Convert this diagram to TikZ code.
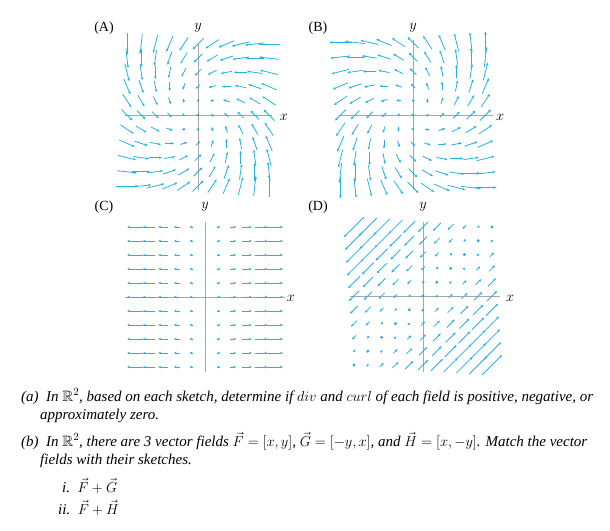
\documentclass[tikz,border=0pt]{standalone}
\usepackage{amssymb}
\usepackage{fontspec}
\setmainfont{Liberation Serif}
\usetikzlibrary{arrows.meta}
\definecolor{fc}{RGB}{38,178,228}
\tikzset{vec/.style={fc,line width=0.8pt,-{Stealth[length=3pt,width=2.6pt]}},
 axis/.style={gray!70,line width=0.8pt},
 lab/.style={font=\fontsize{14}{16}\selectfont},
 txt/.style={anchor=base west,inner sep=0pt,font=\fontsize{15}{17}\selectfont\itshape}}
\newcommand\vfield[7]{%
 \foreach \i in {#7}{\foreach \j in {-5,...,5}{%
  \pgfmathsetmacro\u{\i/5}\pgfmathsetmacro\w{\j/5}%
  \pgfmathsetmacro\vx{#4*(#5)}\pgfmathsetmacro\vy{#4*(#6)}%
  \pgfmathsetmacro\m{sqrt(\vx*\vx+\vy*\vy)}%
  \ifdim\m pt<1.5pt
   \fill[fc] ({#1+\i*#3},{#2-\j*#3}) circle (1.7pt);
  \else
   \draw[vec] ({#1+\i*#3-\vx/2},{#2-\j*#3+\vy/2}) -- ({#1+\i*#3+\vx/2},{#2-\j*#3-\vy/2});
  \fi}}}
\begin{document}
\begin{tikzpicture}[x=1pt,y=-1pt]
\useasboundingbox (0,0) rectangle (610,530);
% A
\draw[axis] (125,115) -- (272,115); \draw[axis] (198,43) -- (198,190);
\vfield{198}{115}{14.2}{11}{-\u-\w}{\u-\w}{-5,...,5}
\node[lab] at (104,28) {(A)}; \node[lab] at (198,28) {$y$}; \node[lab] at (284,117) {$x$};
% B
\draw[axis] (340,115) -- (493,115); \draw[axis] (413,40) -- (413,190);
\vfield{413}{115}{14.5}{11}{\u-\w}{\u+\w}{-5,...,5}
\node[lab] at (318,28) {(B)}; \node[lab] at (413,28) {$y$}; \node[lab] at (500,117) {$x$};
% C
\draw[axis] (125,297) -- (285,297); \draw[axis] (205,222) -- (205,372);
\vfield{205}{297}{14}{8}{2*\u}{0}{-5,...,-1,1,2,...,5}
\node[lab] at (104,207) {(C)}; \node[lab] at (205,207) {$y$}; \node[lab] at (291,298) {$x$};
% D
\draw[axis] (350,296) -- (500,296); \draw[axis] (423,222) -- (423,372);
\vfield{423}{296}{13.8}{10}{\u-\w}{\u-\w}{-5,...,5}
\node[lab] at (318,207) {(D)}; \node[lab] at (423,207) {$y$}; \node[lab] at (510,298) {$x$};
% text
\node[txt] (ta) at (21,401) {(a)\ \ In $\mathbb{R}^2$, based on each sketch, determine if $div$ and $curl$ of each field is positive, negative, or};
\node[txt] (tb) at (40,419) {approximately zero.};
\node[txt] (tc) at (21,446) {(b)\ \ In $\mathbb{R}^2$, there are 3 vector fields $\vec{F}=[x,y]$, $\vec{G}=[-y,x]$, and $\vec{H}=[x,-y]$. Match the vector};
\node[txt] (td) at (40,464) {fields with their sketches.};
\node[txt] (te) at (62,492) {i.\ \ $\vec{F}+\vec{G}$};
\node[txt] (tf) at (58,514) {ii.\ \ $\vec{F}+\vec{H}$};
\end{tikzpicture}
\end{document}
